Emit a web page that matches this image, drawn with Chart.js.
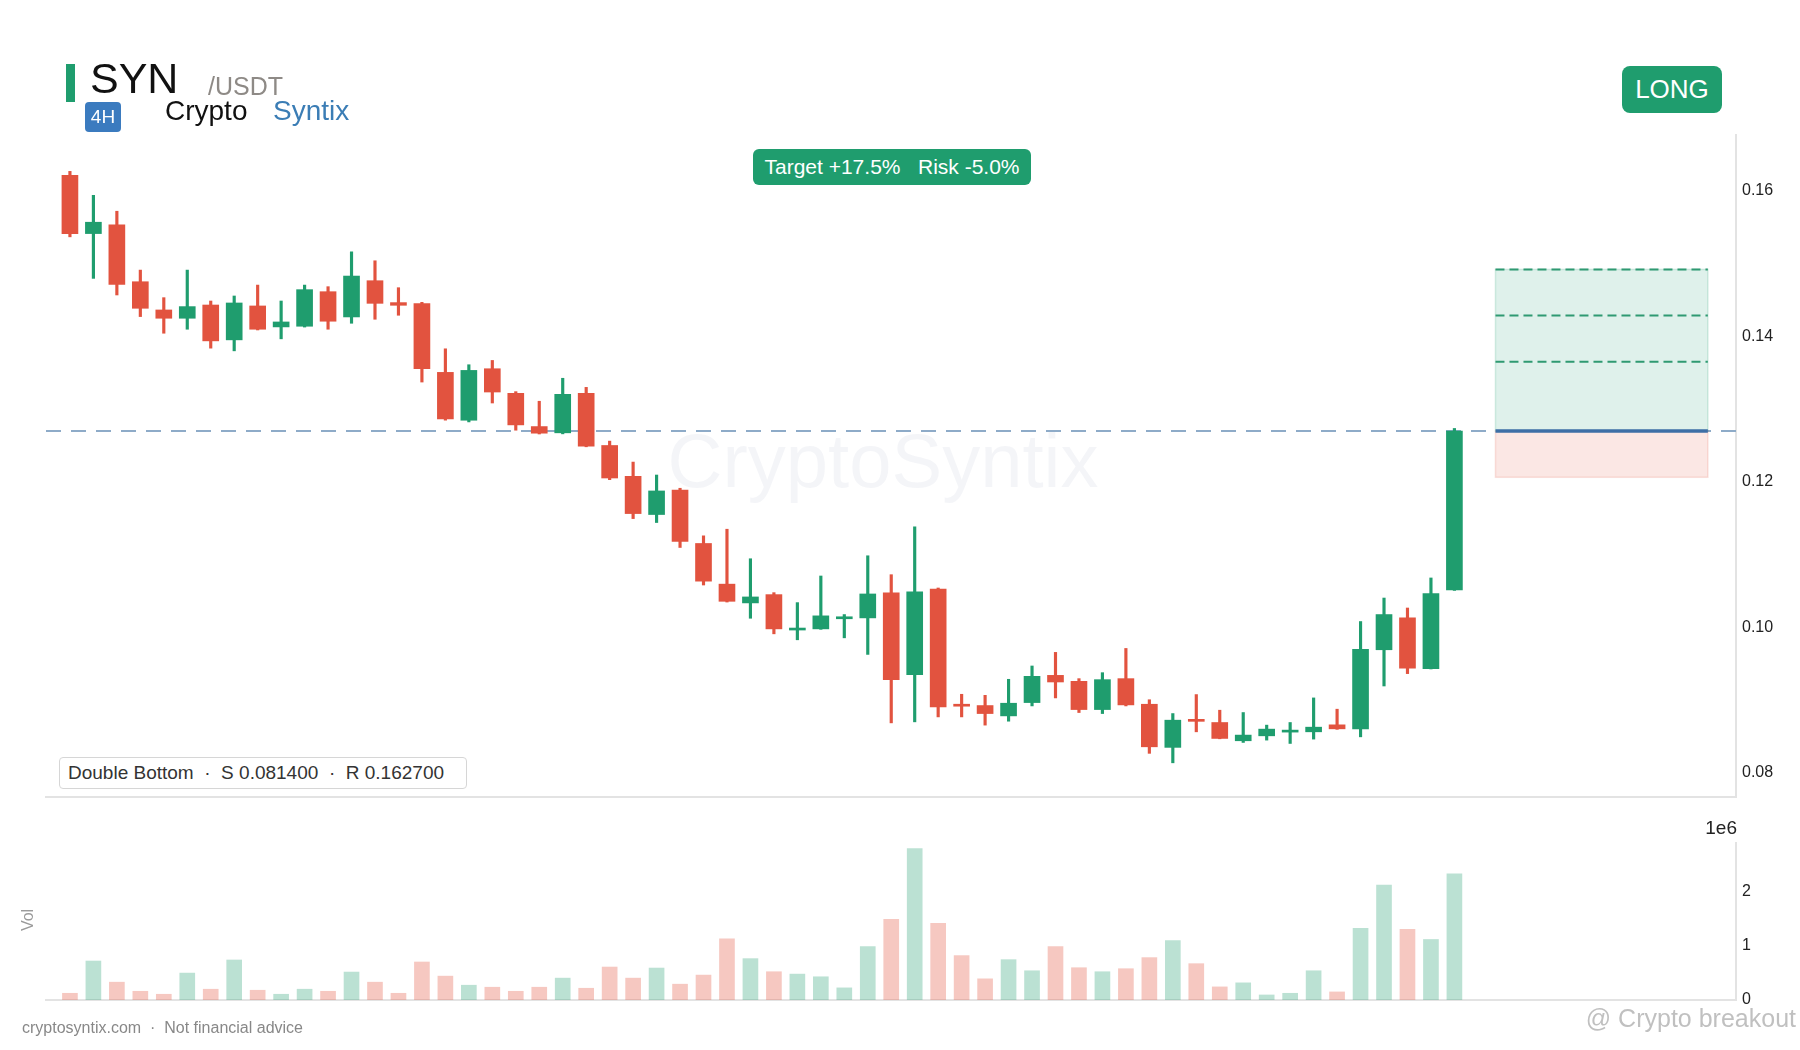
<!DOCTYPE html>
<html>
<head>
<meta charset="utf-8">
<title>SYN/USDT 4H</title>
<script src="https://cdn.jsdelivr.net/npm/chart.js@4.4.1/dist/chart.umd.min.js"></script>
<style>
  body { margin: 0; background: #fff; font-family: "Liberation Sans", Arial, sans-serif; }
  #page { position: relative; width: 1800px; height: 1050px; overflow: hidden; background: #fff; }
  .abs { position: absolute; white-space: pre; }
  canvas { position: absolute; left: 0; }
  .badge { display: flex; align-items: center; justify-content: center; color: #fff; }
</style>
</head>
<body>
<div id="page">
  <canvas id="mainchart" width="1800" height="820" style="top:0"></canvas>
  <canvas id="volchart" width="1800" height="240" style="top:810px"></canvas>

  <!-- header -->
  <div class="abs" style="left:66px;top:64px;width:9px;height:38px;background:#1f9d6e"></div>
  <div class="abs" style="left:90px;top:57px;font-size:43px;line-height:43px;color:#111">SYN</div>
  <div class="abs" style="left:208px;top:74px;font-size:25px;line-height:25px;color:#8e8a86">/USDT</div>
  <div class="abs badge" style="left:85px;top:102px;width:36px;height:30px;border-radius:4px;background:#3b7bbf;font-size:19px">4H</div>
  <div class="abs" style="left:165px;top:97px;font-size:28px;line-height:28px;color:#111">Crypto</div>
  <div class="abs" style="left:273px;top:97px;font-size:28px;line-height:28px;color:#3b7db5">Syntix</div>
  <div class="abs badge" style="left:1622px;top:66px;width:100px;height:47px;border-radius:8px;background:#1f9d6e;font-size:26px">LONG</div>
  <div class="abs badge" style="left:753px;top:149px;width:278px;height:36px;border-radius:6px;background:#1f9d6e;font-size:21px">Target +17.5%   Risk -5.0%</div>

  <!-- pattern box -->
  <div class="abs" style="left:59px;top:757px;width:398px;height:30px;padding-left:8px;border:1px solid #d6d6d6;border-radius:4px;background:#fff;color:#333;font-size:19px;line-height:30px">Double Bottom  ·  S 0.081400  ·  R 0.162700</div>

  <!-- footer -->
  <div class="abs" style="left:8px;top:910px;width:40px;text-align:center;font-size:16px;line-height:20px;color:#9a9a9a;transform:rotate(-90deg)">Vol</div>
  <div class="abs" style="left:22px;top:1020px;font-size:16px;line-height:16px;color:#888">cryptosyntix.com  ·  Not financial advice</div>
  <div class="abs" style="right:4px;top:1006px;font-size:25px;line-height:25px;color:rgba(150,150,150,0.6)">@ Crypto breakout</div>
</div>

<script>

/* Data */

var opens  = [0.16214, 0.15415, 0.15534, 0.14753, 0.14365, 0.14251, 0.14433, 0.13954, 0.14420, 0.14132,
              0.14141, 0.14616, 0.14269, 0.14767, 0.14466, 0.14452, 0.13507, 0.12849, 0.13557, 0.13219,
              0.12762, 0.12676, 0.13219, 0.12502, 0.12078, 0.11553, 0.11890, 0.11155, 0.10596, 0.10338,
              0.10452, 0.09965, 0.09981, 0.10120, 0.10132, 0.10475, 0.09352, 0.10529, 0.08925, 0.08927,
              0.08785, 0.08968, 0.09342, 0.09260, 0.08872, 0.09297, 0.08945, 0.08352, 0.08715, 0.08694,
              0.08443, 0.08511, 0.08562, 0.08566, 0.08662, 0.08607, 0.09694, 0.10132, 0.09434, 0.10516];
var highs  = [0.16270, 0.15941, 0.15722, 0.14913, 0.14534, 0.14913, 0.14488, 0.14557, 0.14707, 0.14488,
              0.14707, 0.14685, 0.15164, 0.15041, 0.14671, 0.14470, 0.13831, 0.13612, 0.13671, 0.13242,
              0.13110, 0.13426, 0.13301, 0.12562, 0.12274, 0.12096, 0.11914, 0.11260, 0.11351, 0.10945,
              0.10479, 0.10342, 0.10708, 0.10178, 0.10986, 0.10726, 0.11384, 0.10543, 0.09082, 0.09068,
              0.09288, 0.09471, 0.09658, 0.09297, 0.09379, 0.09712, 0.09007, 0.08817, 0.09078, 0.08863,
              0.08831, 0.08658, 0.08694, 0.09032, 0.08877, 0.10082, 0.10405, 0.10268, 0.10681, 0.12736];
var lows   = [0.15370, 0.14799, 0.14571, 0.14274, 0.14045, 0.14100, 0.13840, 0.13803, 0.14090, 0.13968,
              0.14130, 0.14100, 0.14182, 0.14237, 0.14292, 0.13374, 0.12850, 0.12826, 0.13086, 0.12712,
              0.12660, 0.12662, 0.12484, 0.12032, 0.11497, 0.11443, 0.11100, 0.10584, 0.10350, 0.10127,
              0.09913, 0.09831, 0.09975, 0.09858, 0.09630, 0.08689, 0.08703, 0.08771, 0.08771, 0.08658,
              0.08712, 0.08922, 0.09032, 0.08831, 0.08817, 0.08922, 0.08270, 0.08140, 0.08566, 0.08470,
              0.08420, 0.08452, 0.08406, 0.08466, 0.08600, 0.08497, 0.09196, 0.09366, 0.09430, 0.10510];
var closes = [0.15415, 0.15571, 0.14717, 0.14388, 0.14251, 0.14411, 0.13940, 0.14461, 0.14100, 0.14200,
              0.14644, 0.14210, 0.14831, 0.14456, 0.14429, 0.13557, 0.12867, 0.13534, 0.13237, 0.12785,
              0.12671, 0.13205, 0.12493, 0.12055, 0.11566, 0.11877, 0.11182, 0.10637, 0.10360, 0.10420,
              0.09981, 0.09970, 0.10160, 0.10130, 0.10461, 0.09283, 0.10489, 0.08908, 0.08918, 0.08817,
              0.08959, 0.09329, 0.09251, 0.08872, 0.09283, 0.08936, 0.08360, 0.08726, 0.08710, 0.08475,
              0.08521, 0.08603, 0.08570, 0.08630, 0.08607, 0.09699, 0.10178, 0.09442, 0.10466, 0.12699];
var volumes = [124000, 720000, 329000, 161000, 106000, 497000, 199000, 739000, 180000, 106000,
               199000, 161000, 516000, 329000, 124000, 702000, 441000, 273000, 236000, 161000,
               236000, 404000, 217000, 609000, 404000, 590000, 292000, 460000, 1130000, 764000,
               522000, 478000, 429000, 224000, 988000, 1491000, 2795000, 1416000, 820000, 391000,
               745000, 540000, 988000, 596000, 522000, 578000, 783000, 1099000, 671000, 242000,
               317000, 93000, 124000, 540000, 149000, 1323000, 2124000, 1304000, 1118000, 2329000];

var priceTicks = [0.08, 0.10, 0.12, 0.14, 0.16];
var volTicks = [0, 1000000, 2000000];

var entry = 0.127;
var targetPcts = [7.5, 12.5, 17.5];
var riskPct = 5.0;
var zoneStart = 60.75, zoneEnd = 69.8;

var upColor = '#1f9d6e', downColor = '#e2533f';
var upVol = 'rgba(31,157,110,0.30)', downVol = 'rgba(226,83,63,0.32)';


var idx = opens.map(function (o, i) { return i; });
var candleColors = idx.map(function (i) { return closes[i] >= opens[i] ? upColor : downColor; });
var volColors = idx.map(function (i) { return closes[i] >= opens[i] ? upVol : downVol; });

var bodyData = idx.map(function (i) { return { x: i, y: [opens[i], closes[i]] }; });
var wickData = idx.map(function (i) { return { x: i, y: [lows[i], highs[i]] }; });
var volData  = idx.map(function (i) { return { x: i, y: volumes[i] }; });


/* Levels + watermark */

var levelsPlugin = {
  id: 'levels',
  beforeDatasetsDraw: function (chart) {
    var ctx = chart.ctx, a = chart.chartArea;
    var xs = chart.scales.x, ys = chart.scales.y;
    ctx.save();

    ctx.font = '76px "Liberation Sans", Arial, sans-serif';
    ctx.fillStyle = 'rgba(70,90,130,0.06)';
    ctx.textAlign = 'center';
    ctx.textBaseline = 'middle';
    ctx.fillText('CryptoSyntix', (a.left + a.right) / 2 - 8, (a.top + a.bottom) / 2);

    var yE = ys.getPixelForValue(entry);
    ctx.strokeStyle = '#8eabc8';
    ctx.lineWidth = 2;
    ctx.setLineDash([15, 10]);
    ctx.beginPath();
    ctx.moveTo(a.left, yE);
    ctx.lineTo(a.right, yE);
    ctx.stroke();

    var x1 = xs.getPixelForValue(zoneStart), x2 = xs.getPixelForValue(zoneEnd);
    var yT = ys.getPixelForValue(entry * (1 + targetPcts[targetPcts.length - 1] / 100));
    var yS = ys.getPixelForValue(entry * (1 - riskPct / 100));

    ctx.setLineDash([]);
    ctx.lineWidth = 1.5;
    ctx.fillStyle = 'rgba(31,157,110,0.14)';
    ctx.fillRect(x1, yT, x2 - x1, yE - yT);
    ctx.strokeStyle = 'rgba(31,157,110,0.18)';
    ctx.strokeRect(x1, yT, x2 - x1, yE - yT);
    ctx.fillStyle = 'rgba(226,83,63,0.14)';
    ctx.fillRect(x1, yE, x2 - x1, yS - yE);
    ctx.strokeStyle = 'rgba(226,83,63,0.16)';
    ctx.strokeRect(x1, yE, x2 - x1, yS - yE);

    ctx.strokeStyle = '#2f9a72';
    ctx.lineWidth = 2;
    ctx.setLineDash([9, 5]);
    targetPcts.forEach(function (p) {
      var y = ys.getPixelForValue(entry * (1 + p / 100));
      ctx.beginPath();
      ctx.moveTo(x1, y);
      ctx.lineTo(x2, y);
      ctx.stroke();
    });

    ctx.setLineDash([]);
    ctx.strokeStyle = '#3d6fa6';
    ctx.lineWidth = 3.5;
    ctx.beginPath();
    ctx.moveTo(x1, yE);
    ctx.lineTo(x2, yE);
    ctx.stroke();

    ctx.restore();
  }
};


/* Main Chart */

var main = document.getElementById('mainchart');
var mainchart = new Chart(main, {
  type: 'bar',
  data: {
    datasets: [{
      label: 'wick',
      data: wickData,
      backgroundColor: candleColors,
      barThickness: 2.5,
      grouped: false,
      order: 2
    }, {
      label: 'body',
      data: bodyData,
      backgroundColor: candleColors,
      barThickness: 16,
      minBarLength: 2,
      grouped: false,
      order: 1
    }]
  },
  options: {
    responsive: false,
    animation: false,
    layout: { padding: { left: 46, top: 135, right: 4, bottom: 23 } },
    plugins: { legend: { display: false }, tooltip: { enabled: false } },
    scales: {
      x: {
        type: 'linear',
        offset: false,
        min: -1.02,
        max: 71.0,
        grid: { display: false, drawTicks: false, offset: false },
        ticks: { display: false },
        border: { display: true, color: '#e3e3e3', width: 2 },
        afterFit: function (s) { s.height = 0; }
      },
      y: {
        position: 'right',
        min: 0.0767,
        max: 0.1677,
        grid: { display: false, drawTicks: false },
        border: { display: true, color: '#e3e3e3', width: 2 },
        ticks: {
          padding: 6,
          color: '#222',
          font: { family: '"Liberation Sans", Arial, sans-serif', size: 16 },
          callback: function (v) { return v.toFixed(2); }
        },
        afterBuildTicks: function (s) { s.ticks = priceTicks.map(function (v) { return { value: v }; }); },
        afterFit: function (s) { s.width = 60; }
      }
    }
  },
  plugins: [levelsPlugin]
});


/* Volume Chart */

var vol = document.getElementById('volchart');
var volchart = new Chart(vol, {
  type: 'bar',
  data: {
    datasets: [{
      label: 'Vol',
      data: volData,
      backgroundColor: volColors,
      barThickness: 15
    }]
  },
  options: {
    responsive: false,
    animation: false,
    layout: { padding: { left: 46, top: 33, right: 4, bottom: 50 } },
    plugins: { legend: { display: false }, tooltip: { enabled: false } },
    scales: {
      x: {
        type: 'linear',
        offset: false,
        min: -1.02,
        max: 71.0,
        grid: { display: false, drawTicks: false, offset: false },
        ticks: { display: false },
        border: { display: true, color: '#e3e3e3', width: 2 },
        afterFit: function (s) { s.height = 0; }
      },
      y: {
        position: 'right',
        min: 0,
        max: 2900000,
        grid: { display: false, drawTicks: false },
        border: { display: true, color: '#e3e3e3', width: 2 },
        ticks: {
          padding: 6,
          color: '#222',
          font: { family: '"Liberation Sans", Arial, sans-serif', size: 16 },
          callback: function (v) { return (v / 1e6).toFixed(0); }
        },
        afterBuildTicks: function (s) { s.ticks = volTicks.map(function (v) { return { value: v }; }); },
        afterFit: function (s) { s.width = 60; }
      }
    }
  },
  plugins: [{
    id: 'offsetLabel',
    afterDraw: function (chart) {
      var ctx = chart.ctx, a = chart.chartArea;
      ctx.save();
      ctx.font = '19px "Liberation Sans", Arial, sans-serif';
      ctx.fillStyle = '#222';
      ctx.textAlign = 'right';
      ctx.textBaseline = 'middle';
      ctx.fillText('1e6', a.right + 1, a.top - 14);
      ctx.restore();
    }
  }]
});

</script>
</body>
</html>
